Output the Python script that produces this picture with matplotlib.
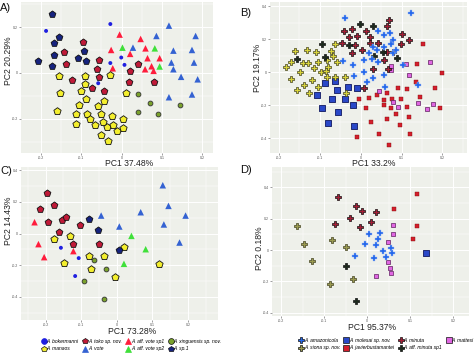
import numpy as np
import matplotlib
matplotlib.use("Agg")
import matplotlib.pyplot as plt
from matplotlib.lines import Line2D
from matplotlib.ticker import MultipleLocator

plt.rcParams.update({
    "font.family": ["Liberation Sans", "DejaVu Sans"],
    "font.size": 6,
    "axes.linewidth": 0,
    "xtick.major.size": 1.2,
    "ytick.major.size": 1.2,
    "xtick.major.width": 0.4,
    "ytick.major.width": 0.4,
    "xtick.color": "#555555",
    "ytick.color": "#555555",
    "xtick.labelsize": 2.6,
    "ytick.labelsize": 2.6,
    "xtick.major.pad": 0.8,
    "ytick.major.pad": 1,
})

# ---------------------------------------------------------------- data
# panel A  (PC1 37.48% / PC2 20.29%)
a_sp1 = np.array([(-0.172, 0.258), (-0.156, 0.158), (-0.168, 0.129), (-0.168, 0.080),
                  (-0.206, 0.051), (-0.172, 0.028), (-0.109, 0.064), (-0.094, 0.096),
                  (-0.087, 0.054)])
a_bokermanni = np.array([(-0.187, 0.183), (-0.028, 0.213), (-0.001, 0.067), (-0.028, 0.043),
                         (0.007, 0.035), (-0.058, -0.045)])
a_toko = np.array([(-0.096, 0.135), (-0.142, 0.091), (-0.137, 0.039), (-0.124, -0.030),
                   (-0.056, 0.058), (-0.060, 0.017), (-0.056, -0.019), (-0.074, -0.065),
                   (-0.044, -0.081), (0.021, 0.010), (0.019, -0.038), (0.040, 0.041),
                   (0.079, -0.038)])
a_vote_sp1 = np.array([(-0.005, 0.167), (-0.026, 0.100), (0.021, 0.083), (0.047, 0.148),
                       (0.059, 0.107), (0.064, 0.064), (0.058, 0.016), (0.074, 0.029),
                       (0.079, 0.009), (0.094, 0.064), (-0.022, 0.020)])
a_vote_sp2 = np.array([(0.002, 0.110), (0.082, 0.107), (0.094, 0.028)])
a_vote = np.array([(0.028, 0.110), (0.086, 0.161), (0.117, 0.206), (0.183, 0.161),
                   (0.128, 0.097), (0.174, 0.100), (0.123, 0.045), (0.179, 0.045),
                   (0.128, 0.016), (0.147, -0.017), (0.188, -0.028), (0.117, -0.106),
                   (0.174, -0.094)])
a_xinguensis = np.array([(0.040, -0.093), (0.071, -0.133), (0.040, -0.172), (0.091, -0.180),
                         (0.144, -0.139)])
a_manaos = np.array([(-0.156, -0.014), (-0.091, -0.012), (-0.153, -0.088), (-0.091, -0.049),
                     (-0.100, -0.081), (-0.030, -0.010), (-0.087, -0.112), (-0.105, -0.139),
                     (-0.160, -0.168), (-0.114, -0.178), (-0.085, -0.178), (-0.079, -0.201),
                     (-0.114, -0.223), (-0.059, -0.146), (-0.044, -0.123), (-0.052, -0.178),
                     (-0.046, -0.213), (-0.067, -0.229), (-0.024, -0.186), (-0.052, -0.272),
                     (-0.036, -0.235), (-0.021, -0.229), (-0.012, -0.252), (0.003, -0.200),
                     (0.003, -0.241), (-0.033, -0.297), (0.012, -0.088)])

# panel B  (PC1 33.2% / PC2 19.17%)
b_siona = np.array([(-0.161, 0.129), (-0.132, 0.135), (-0.109, 0.125), (-0.073, 0.129),
                    (-0.063, 0.172), (-0.171, 0.065), (-0.184, 0.030), (-0.142, 0.059),
                    (-0.128, 0.055), (-0.104, 0.065), (-0.083, 0.075), (-0.067, 0.099),
                    (-0.059, 0.065), (-0.114, 0.024), (-0.096, 0.004), (-0.079, 0.034),
                    (-0.149, 0.004), (-0.171, -0.040), (-0.140, -0.077), (-0.120, -0.046),
                    (-0.104, -0.091), (-0.126, -0.123), (-0.083, -0.026), (-0.063, -0.030),
                    (-0.038, -0.026), (-0.036, -0.127), (-0.085, 0.010), (-0.155, -0.107)])
b_molesi = np.array([(-0.088, -0.067), (-0.063, -0.053), (-0.108, -0.137), (-0.057, -0.107),
                     (-0.032, -0.091), (-0.010, -0.097), (-0.071, -0.162), (-0.038, -0.162),
                     (-0.095, -0.214), (-0.055, -0.238), (-0.020, -0.200), (-0.080, -0.309),
                     (-0.016, -0.325)])
b_javier = np.array([(0.153, 0.170), (0.138, 0.051), (0.198, -0.006), (0.136, -0.057),
                     (0.182, -0.093), (0.091, -0.097), (0.114, -0.103), (0.065, -0.127),
                     (-0.004, -0.162), (0.019, -0.154), (0.039, -0.139), (0.056, -0.168),
                     (0.056, -0.198), (0.076, -0.164), (0.099, -0.164), (0.013, -0.218),
                     (0.073, -0.218), (0.113, -0.208), (0.144, -0.147), (0.193, -0.218),
                     (0.025, -0.299), (0.065, -0.281), (0.095, -0.319), (0.118, -0.273),
                     (0.121, -0.374), (0.045, -0.374), (-0.008, -0.394), (0.068, -0.440),
                     (0.087, -0.255)])
b_mattesi = np.array([(0.111, 0.051), (0.073, 0.036), (0.073, 0.012), (0.117, -0.014),
                      (0.170, 0.065), (0.045, -0.115), (0.078, -0.178), (0.091, -0.212),
                      (0.140, -0.188), (0.162, -0.224), (0.176, -0.192)])
b_minuta = np.array([(0.069, 0.317), (0.065, 0.281), (-0.041, 0.253), (-0.022, 0.261),
                     (0.012, 0.253), (-0.010, 0.220), (0.023, 0.212), (-0.028, 0.212),
                     (-0.046, 0.180), (0.100, 0.232), (0.118, 0.196), (0.099, 0.172),
                     (-0.014, 0.166), (0.002, 0.135), (0.023, 0.176), (0.064, 0.125),
                     (0.080, 0.125), (0.058, 0.075), (0.029, 0.020), (0.066, 0.020),
                     (0.007, -0.093), (-0.022, 0.115), (0.043, 0.176)])
b_aff_minuta = np.array([(-0.002, 0.293), (0.031, 0.281), (-0.094, 0.170), (-0.155, 0.081),
                         (-0.087, 0.095), (-0.028, 0.166), (0.033, 0.101), (0.054, 0.125),
                         (0.088, 0.085)])
b_amazonicola = np.array([(-0.038, 0.327), (0.122, 0.358), (0.043, 0.253), (0.057, 0.226),
                          (0.072, 0.236), (0.080, 0.196), (0.074, 0.170), (0.029, 0.156),
                          (0.039, 0.135), (0.056, 0.156), (0.080, 0.115), (0.087, 0.135),
                          (-0.044, 0.071), (-0.018, 0.044), (0.009, 0.075), (0.027, 0.079),
                          (0.043, 0.065), (0.008, 0.004), (0.031, -0.036), (0.015, -0.057),
                          (-0.016, -0.022), (0.056, -0.016), (0.060, -0.091), (0.141, -0.077),
                          (0.104, 0.044), (0.021, 0.115)])

# panel C  (PC1 73.28% / PC2 14.43%)
c_toko = np.array([(-0.196, 0.258), (-0.177, 0.182), (-0.215, 0.153), (-0.193, 0.073),
                   (-0.154, 0.084), (-0.144, 0.103), (-0.102, 0.052), (-0.163, 0.010),
                   (-0.123, -0.067), (-0.051, -0.067)])
c_vote_sp1 = np.array([(-0.231, 0.071), (-0.220, -0.067), (-0.204, -0.149), (-0.122, -0.111)])
c_sp1 = np.array([(-0.079, 0.090), (-0.052, 0.019), (0.007, -0.107)])
c_bokermanni = np.array([(-0.157, -0.090), (-0.107, -0.155), (-0.117, -0.268)])
c_manaos = np.array([(-0.177, -0.034), (-0.131, -0.015), (-0.147, -0.187), (-0.079, -0.143),
                     (-0.072, -0.222), (-0.036, -0.140), (-0.006, -0.275), (0.020, -0.086),
                     (0.117, -0.195)])
c_xinguensis = np.array([(-0.064, -0.170), (-0.031, -0.222), (-0.092, -0.300), (-0.036, -0.413)])
c_vote_sp2 = np.array([(0.041, -0.015), (0.081, -0.099), (0.020, -0.191)])
c_vote = np.array([(-0.044, 0.113), (0.007, 0.044), (0.067, 0.134), (0.129, 0.304),
                   (0.145, 0.174), (0.193, 0.113), (0.132, 0.057), (0.176, -0.057)])

# panel D  (PC1 95.37% / PC2 0.18%)
d_minuta = np.array([(-0.067, 0.336), (-0.025, 0.281), (-0.012, 0.249), (0.021, 0.243),
                     (-0.039, 0.206), (-0.075, 0.164), (-0.018, 0.149), (0.008, 0.179)])
d_siona = np.array([(-0.163, 0.155), (-0.147, 0.038), (-0.128, -0.072), (-0.082, 0.066),
                    (-0.050, 0.019), (-0.033, -0.187), (-0.087, -0.215)])
d_aff_minuta = np.array([(-0.050, -0.104), (-0.025, -0.326)])
d_amazonicola = np.array([(0.005, 0.100), (0.030, 0.109), (-0.005, 0.036), (0.021, 0.032),
                          (0.025, 0.070), (-0.029, -0.036), (0.036, -0.004), (0.043, -0.047),
                          (0.054, 0.011), (0.058, -0.019), (0.015, -0.053)])
d_mattesi = np.array([(0.060, 0.157), (0.060, 0.102), (0.048, 0.053), (0.048, -0.074),
                      (0.053, -0.117), (0.054, -0.149), (0.021, -0.168)])
d_javier = np.array([(0.061, 0.260), (0.115, 0.360), (0.115, 0.155), (0.105, 0.068)])
d_molesi = np.array([(0.136, -0.019)])

# ---------------------------------------------------------------- styles
INK = "#111111"
STY = {
    "bokermanni": dict(marker="o", s=8, c="#1f1fe0", edgecolors="none"),
    "toko": dict(marker="p", s=26, c="#c01a38", edgecolors=INK, linewidths=0.6),
    "vote_sp1": dict(marker="^", s=22, c="#ff1c3c", edgecolors="none"),
    "xinguensis": dict(marker="o", s=12, c="#7aa22c", edgecolors="#333333", linewidths=0.6),
    "manaos": dict(marker="p", s=30, c="#f3ee2e", edgecolors=INK, linewidths=0.6),
    "vote": dict(marker="^", s=22, c="#3462d2", edgecolors="none"),
    "vote_sp2": dict(marker="^", s=22, c="#3fe03a", edgecolors="none"),
    "sp1": dict(marker="p", s=26, c="#16237e", edgecolors=INK, linewidths=0.6),
    "amazonicola": dict(marker="P", s=24, c="#2266ec", edgecolors="#9ab8f0", linewidths=0.3),
    "siona": dict(marker="P", s=24, c="#d8d43c", edgecolors="#444422", linewidths=0.5),
    "molesi": dict(marker="s", s=16, c="#2a48c8", edgecolors="#101860", linewidths=0.6),
    "javier": dict(marker="s", s=7, c="#d41e2c", edgecolors="#801010", linewidths=0.3),
    "minuta": dict(marker="P", s=24, c="#a41e36", edgecolors=INK, linewidths=0.5),
    "mattesi": dict(marker="s", s=12, c="#e066e2", edgecolors="#602060", linewidths=0.5),
    "aff_minuta": dict(marker="P", s=24, c="#1c2a1c", edgecolors=INK, linewidths=0.5),
}
D_SIONA = dict(STY["siona"], c="#9a9a50")


def style_ax(ax, xlim, ylim, xstep, ystep):
    ax.set_facecolor("#eef0ea")
    ax.set_xlim(*xlim); ax.set_ylim(*ylim)
    ax.xaxis.set_major_locator(MultipleLocator(xstep))
    ax.xaxis.set_minor_locator(MultipleLocator(xstep / 2))
    ax.yaxis.set_major_locator(MultipleLocator(ystep))
    ax.yaxis.set_minor_locator(MultipleLocator(ystep / 2))
    ax.tick_params(which="minor", length=0)
    ax.grid(True, which="major", color="white", lw=0.7)
    ax.grid(True, which="minor", color="white", lw=0.35)
    ax.set_axisbelow(True)
    fmt = plt.FuncFormatter(lambda v, p: f"{v:g}" if abs(v) > 1e-9 else "0")
    ax.xaxis.set_major_formatter(fmt)
    ax.yaxis.set_major_formatter(fmt)


def pts(ax, arr, style):
    ax.scatter(arr[:, 0], arr[:, 1], zorder=3, **style)


W, H = 474, 355
fig = plt.figure(figsize=(W / 100, H / 100), dpi=100)


def add_ax(x0, y0, x1, y1):
    return fig.add_axes([x0 / W, 1 - y1 / H, (x1 - x0) / W, (y1 - y0) / H])


# ---------------------------------------------------------------- A
ax = add_ax(21, 2, 213, 153)
style_ax(ax, (-0.249, 0.226), (-0.349, 0.309), 0.1, 0.2)
for arr, key in [(a_vote, "vote"), (a_vote_sp1, "vote_sp1"), (a_vote_sp2, "vote_sp2"),
                 (a_xinguensis, "xinguensis"), (a_manaos, "manaos"), (a_toko, "toko"),
                 (a_sp1, "sp1"), (a_bokermanni, "bokermanni")]:
    pts(ax, arr, STY[key])

# ---------------------------------------------------------------- B
ax = add_ax(270, 2, 467, 153)
style_ax(ax, (-0.222, 0.26), (-0.489, 0.426), 0.1, 0.2)
for arr, key in [(b_javier, "javier"), (b_molesi, "molesi"), (b_mattesi, "mattesi"),
                 (b_siona, "siona"), (b_minuta, "minuta"), (b_aff_minuta, "aff_minuta"),
                 (b_amazonicola, "amazonicola")]:
    pts(ax, arr, STY[key])

# ---------------------------------------------------------------- C
ax = add_ax(21, 167, 218, 320)
style_ax(ax, (-0.269, 0.284), (-0.545, 0.419), 0.1, 0.2)
for arr, key in [(c_vote, "vote"), (c_vote_sp1, "vote_sp1"), (c_vote_sp2, "vote_sp2"),
                 (c_xinguensis, "xinguensis"), (c_manaos, "manaos"), (c_toko, "toko"),
                 (c_sp1, "sp1"), (c_bokermanni, "bokermanni")]:
    pts(ax, arr, STY[key])

# ---------------------------------------------------------------- D
ax = add_ax(272, 167, 469, 316)
style_ax(ax, (-0.221, 0.236), (-0.421, 0.53), 0.1, 0.2)
for arr, key in [(d_javier, "javier"), (d_molesi, "molesi"), (d_mattesi, "mattesi"),
                 (d_minuta, "minuta"), (d_aff_minuta, "aff_minuta"),
                 (d_amazonicola, "amazonicola")]:
    pts(ax, arr, STY[key])
pts(ax, d_siona, D_SIONA)

# ---------------------------------------------------------------- labels
lab = dict(fontsize=6.2, color="#222222", ha="center", va="center")
fig.text(129 / W, 1 - 163.5 / H, "PC1 37.48%", **lab)
fig.text(374 / W, 1 - 163 / H, "PC1 33.2%", **lab)
fig.text(132 / W, 1 - 331 / H, "PC1 73.28%", **lab)
fig.text(372 / W, 1 - 328 / H, "PC1 95.37%", **lab)
fig.text(9 / W, 1 - 61 / H, "PC2 20.29%", rotation=90, **lab)
fig.text(257 / W, 1 - 68 / H, "PC2 19.17%", rotation=90, **lab)
fig.text(9 / W, 1 - 221 / H, "PC2 14.43%", rotation=90, **lab)
fig.text(259 / W, 1 - 248 / H, "PC2 0.18%", rotation=90, **lab)

pl = dict(fontsize=8, color="#111111", va="center", ha="left")
fig.text(0, 1 - 8 / H, "A)", **pl)
fig.text(240 / W, 1 - 13 / H, "B)", **pl)
fig.text(0, 1 - 171 / H, "C)", **pl)
fig.text(240 / W, 1 - 170 / H, "D)", **pl)


def handle(key, style=None):
    st = style or STY[key]
    return Line2D([], [], ls="", marker=st["marker"], markersize=4.2,
                  markerfacecolor=st["c"],
                  markeredgecolor=INK if st.get("edgecolors", "none") != "none" else st["c"],
                  markeredgewidth=0.5)


leg_kw = dict(ncol=4, frameon=False, handletextpad=0.15, columnspacing=0.8,
              labelspacing=0.55, borderpad=0, handlelength=0.9,
              prop={"style": "italic", "size": 3.6})

h_c = [handle("bokermanni"), handle("manaos"), handle("toko"), handle("vote"),
       handle("vote_sp1"), handle("vote_sp2"), handle("xinguensis"), handle("sp1")]
t_c = ["A. bokermanni", "A. manaos", "A. toko sp. nov.", "A. vote",
       "A. aff. vote sp1", "A. aff. vote sp2", "A. xinguensis sp. nov.", "A. sp.1"]
fig.legend(h_c, t_c, loc="center left", bbox_to_anchor=(39 / W, 1 - 345 / H), **leg_kw)

h_d = [handle("amazonicola"), handle("siona", D_SIONA), handle("molesi"), handle("javier"),
       handle("minuta"), handle("aff_minuta"), handle("mattesi")]
t_d = ["A. amazonicola", "A. siona sp. nov.", "A. molesai sp. nov.", "A. javierbustamantei",
       "A. minuta", "A. aff. minuta sp1", "A. mattesi"]
fig.legend(h_d, t_d, loc="center left", bbox_to_anchor=(296 / W, 1 - 344 / H), **leg_kw)

fig.savefig("out.png", dpi=100, facecolor="white")
